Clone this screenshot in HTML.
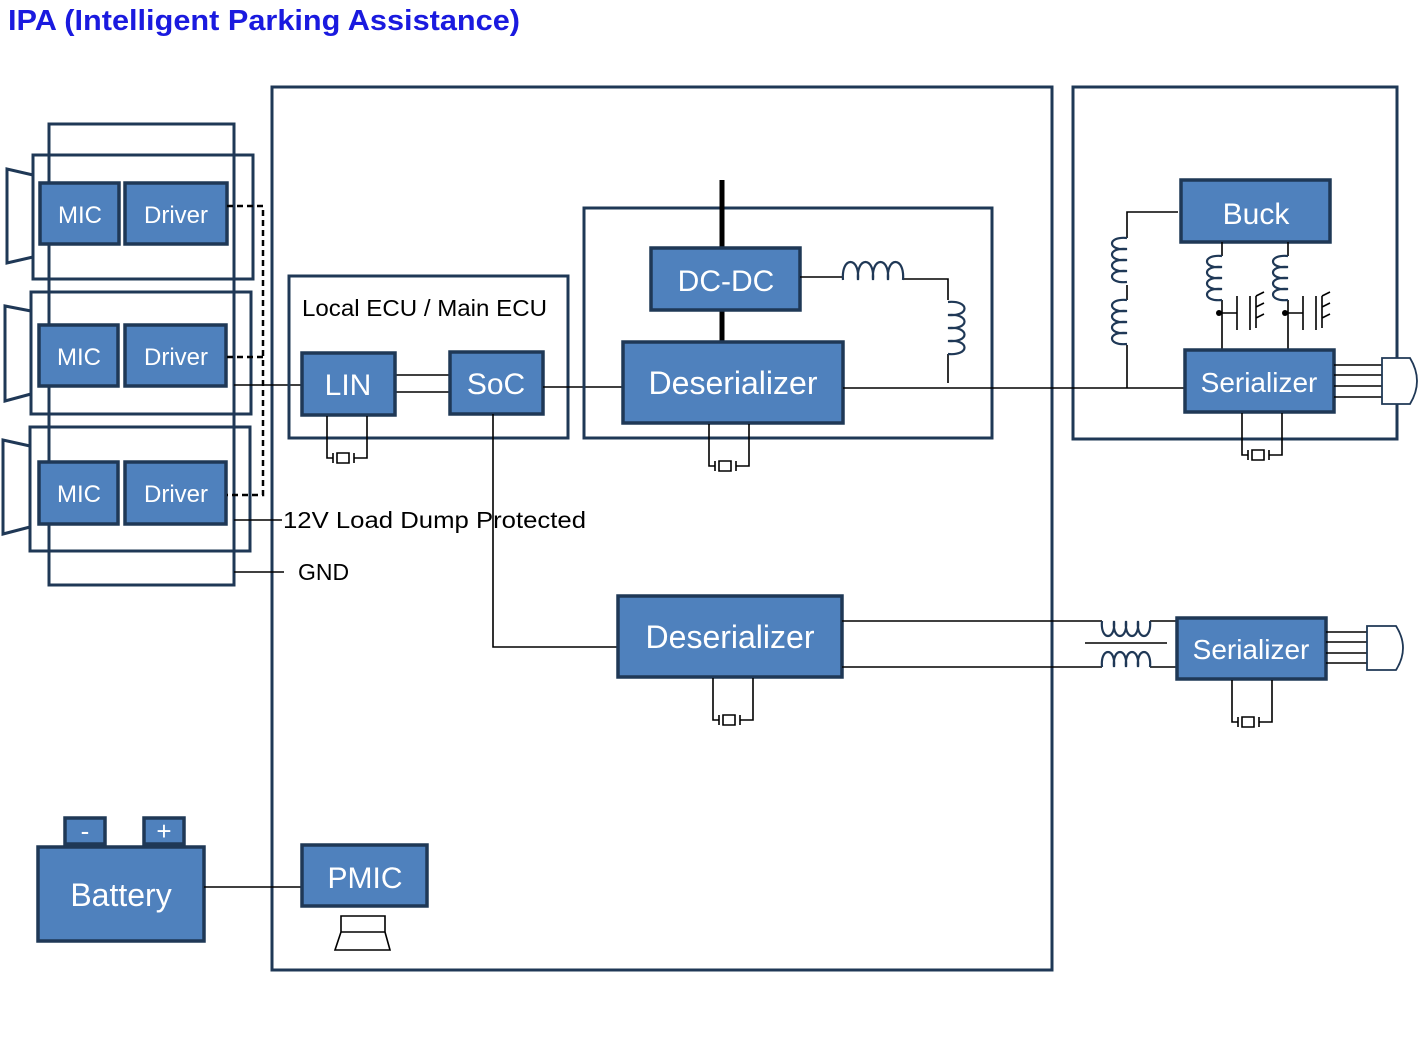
<!DOCTYPE html>
<html><head><meta charset="utf-8"><style>
html,body{margin:0;padding:0;background:#fff;width:1425px;height:1060px;overflow:hidden}
svg{display:block}
text{font-family:"Liberation Sans","DejaVu Sans",sans-serif}
.b{fill:#4F81BD;stroke:#1F3856;stroke-width:3.5}
.o{fill:none;stroke:#1F3856;stroke-width:3}
.l{fill:none;stroke:#000;stroke-width:1.6}
.w{fill:#fff;text-anchor:middle}
</style></head><body>
<svg width="1425" height="1060" viewBox="0 0 1425 1060" xmlns="http://www.w3.org/2000/svg">
<defs>
<g id="xt" fill="none" stroke="#000" stroke-width="1.6"><path d="M0,0 V42 H6 M6,37 V47 M10,37 h12 v10 h-12z M27,37 V47 M27,42 H40 V0"/></g>
<path id="ch" d="M0,0 c-2,-24 17,-24 15,0 c-2,-24 17,-24 15,0 c-2,-24 17,-24 15,0 c-2,-24 17,-24 15,0" fill="none" stroke="#1F3856" stroke-width="2.2"/>
<path id="chd" d="M0,0 c-2,20 14,20 12,0 c-2,20 14,20 12,0 c-2,20 14,20 12,0 c-2,20 14,20 12,0" fill="none" stroke="#1F3856" stroke-width="2.2"/>
<path id="chu" d="M0,0 c-2,-20 14,-20 12,0 c-2,-20 14,-20 12,0 c-2,-20 14,-20 12,0 c-2,-20 14,-20 12,0" fill="none" stroke="#1F3856" stroke-width="2.2"/>
<path id="cv" d="M0,0 c22,-2 22,15 0,13 c22,-2 22,15 0,13 c22,-2 22,15 0,13 c22,-2 22,15 0,13" fill="none" stroke="#1F3856" stroke-width="2.2"/>
<path id="cvs" d="M0,0 c-20,-2 -20,13 0,11 c-20,-2 -20,13 0,11 c-20,-2 -20,13 0,11 c-20,-2 -20,13 0,11" fill="none" stroke="#1F3856" stroke-width="2.2"/>
</defs>
<text x="8" y="30" font-size="29" font-weight="bold" fill="#1a1adf" textLength="512" lengthAdjust="spacingAndGlyphs">IPA (Intelligent Parking Assistance)</text>

<rect class="o" x="272" y="87" width="780" height="883"/>
<rect class="o" x="1073" y="87" width="324" height="352"/>

<rect class="o" x="49" y="124" width="185" height="461"/>
<rect class="o" x="33" y="155" width="220" height="124"/>
<rect class="o" x="31" y="292" width="220" height="122"/>
<rect class="o" x="30" y="427" width="220" height="124"/>
<path class="o" d="M33,175 L7,169 V263 L33,257"/>
<path class="o" d="M31,311 L5,306 V401 L31,394"/>
<path class="o" d="M30,446 L3,440 V534 L30,527"/>
<rect class="b" x="40" y="183" width="79" height="61"/><text class="w" x="80" y="223" font-size="24">MIC</text>
<rect class="b" x="125" y="183" width="102" height="61"/><text class="w" x="176" y="223" font-size="24">Driver</text>
<rect class="b" x="39" y="325" width="79" height="61"/><text class="w" x="79" y="365" font-size="24">MIC</text>
<rect class="b" x="125" y="325" width="101" height="61"/><text class="w" x="176" y="365" font-size="24">Driver</text>
<rect class="b" x="39" y="462" width="79" height="62"/><text class="w" x="79" y="502" font-size="24">MIC</text>
<rect class="b" x="125" y="462" width="101" height="62"/><text class="w" x="176" y="502" font-size="24">Driver</text>
<path d="M227,206 H263 V495 H227 M227,357 H263" fill="none" stroke="#000" stroke-width="2.5" stroke-dasharray="6,4"/>
<path class="l" d="M234,385 H302 M234,520 H282 M234,572 H284"/>
<text x="283" y="528" font-size="23" fill="#000" textLength="303" lengthAdjust="spacingAndGlyphs">12V  Load Dump Protected</text>
<text x="298" y="580" font-size="23" fill="#000">GND</text>

<rect class="o" x="289" y="276" width="279" height="162"/>
<text x="302" y="316" font-size="23" fill="#000" textLength="245" lengthAdjust="spacingAndGlyphs">Local ECU / Main ECU</text>
<path class="l" d="M395,375 H450 M395,392 H450"/>
<rect class="b" x="302" y="353" width="93" height="62"/><text class="w" x="348" y="395" font-size="30">LIN</text>
<rect class="b" x="450" y="352" width="93" height="62"/><text class="w" x="496" y="394" font-size="30">SoC</text>
<use href="#xt" x="327" y="416"/>
<path class="l" d="M493,414 V647 H618 M543,387 H623"/>

<rect class="o" x="584" y="208" width="408" height="230"/>
<path d="M722,180 V345" stroke="#000" stroke-width="5"/>
<rect class="b" x="651" y="248" width="149" height="62"/><text class="w" x="726" y="291" font-size="30">DC-DC</text>
<path class="l" d="M800,277 H843 M903,279 H948 V300 M948,354 V383"/>
<use href="#ch" x="843" y="280"/>
<use href="#cv" x="948" y="302"/>
<rect class="b" x="623" y="342" width="220" height="81"/><text class="w" x="733" y="394" font-size="32">Deserializer</text>
<use href="#xt" x="709" y="424"/>
<path class="l" d="M843,388 H1185"/>

<path class="l" d="M1127,388 V345 M1127,238 V212 H1178 M1127,285 V300"/>
<use href="#cvs" x="1127" y="238"/>
<use href="#cvs" x="1127" y="300"/>
<rect class="b" x="1181" y="180" width="149" height="62"/><text class="w" x="1256" y="224" font-size="30">Buck</text>
<path class="l" d="M1222,242 V256 M1222,300 V350 M1288,242 V256 M1288,300 V350 M1219,313 H1237 M1237,296 V330 M1250,296 V330 M1256,296 V328 M1256,296 l8,-4 M1256,307 l8,-4 M1256,318 l8,-4 M1285,313 H1303 M1303,296 V330 M1316,296 V330 M1322,296 V328 M1322,296 l8,-4 M1322,307 l8,-4 M1322,318 l8,-4"/>
<circle cx="1219" cy="313" r="3" fill="#000"/><circle cx="1285" cy="313" r="3" fill="#000"/>
<use href="#cvs" x="1222" y="256"/>
<use href="#cvs" x="1288" y="256"/>
<rect class="b" x="1185" y="350" width="149" height="62"/><text class="w" x="1259" y="392" font-size="28">Serializer</text>
<use href="#xt" x="1242" y="413"/>
<path class="l" d="M1334,365 H1382 M1334,375 H1382 M1334,386 H1382 M1334,397 H1382"/>
<path d="M1382,358 H1410 Q1424,381 1410,404 H1382 Z" fill="#fff" stroke="#1F3856" stroke-width="1.8"/>

<rect class="b" x="618" y="596" width="224" height="81"/><text class="w" x="730" y="648" font-size="32">Deserializer</text>
<use href="#xt" x="713" y="678"/>
<path class="l" d="M842,621 H1102 M1150,621 H1177 M842,667 H1102 M1150,667 H1177 M1085,643 H1167"/>
<use href="#chd" x="1102" y="621"/>
<use href="#chu" x="1102" y="667"/>
<rect class="b" x="1177" y="618" width="149" height="61"/><text class="w" x="1251" y="659" font-size="28">Serializer</text>
<use href="#xt" x="1232" y="680"/>
<path class="l" d="M1326,632 H1367 M1326,642 H1367 M1326,653 H1367 M1326,663 H1367"/>
<path d="M1367,626 H1396 Q1410,648 1396,670 H1367 Z" fill="#fff" stroke="#1F3856" stroke-width="1.8"/>

<rect class="b" x="65" y="818" width="40" height="26"/><text class="w" x="85" y="840" font-size="26">-</text>
<rect class="b" x="144" y="818" width="40" height="26"/><text class="w" x="164" y="840" font-size="26">+</text>
<rect class="b" x="38" y="847" width="166" height="94"/><text class="w" x="121" y="906" font-size="32">Battery</text>
<path class="l" d="M204,887 H302"/>
<rect class="b" x="302" y="845" width="125" height="61"/><text class="w" x="365" y="888" font-size="30">PMIC</text>
<path class="l" d="M341,916 H385 V932 H341 Z M341,932 L335,950 H390 L385,932"/>
</svg>
</body></html>
